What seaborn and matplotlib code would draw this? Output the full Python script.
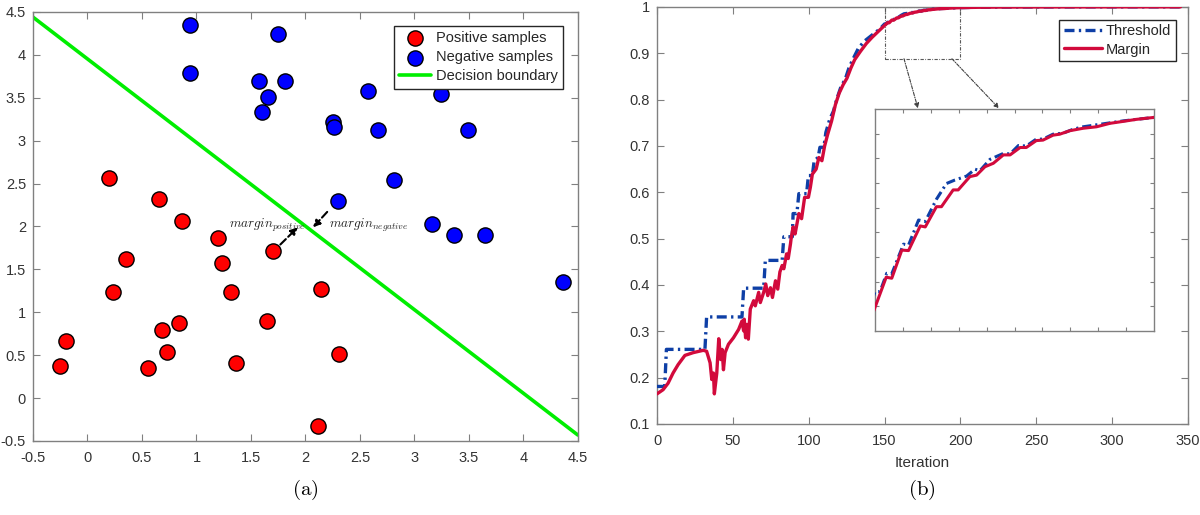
import numpy as np
import matplotlib
matplotlib.use('Agg')
import matplotlib.pyplot as plt
import matplotlib.ticker as mticker
from matplotlib.patches import Rectangle
import seaborn as sns

# --- dados painel (a) ---
pos_x = [-0.25, -0.20, 0.20, 0.23, 0.35, 0.56, 0.66, 0.68, 0.73, 0.84,
         0.87, 1.20, 1.23, 1.32, 1.36, 1.65, 1.70, 2.12, 2.14, 2.31]
pos_y = [0.37, 0.66, 2.57, 1.24, 1.62, 0.35, 2.32, 0.79, 0.54, 0.87,
         2.06, 1.87, 1.58, 1.24, 0.41, 0.90, 1.72, -0.33, 1.27, 0.51]
neg_x = [0.94, 0.94, 1.75, 1.57, 1.81, 1.66, 1.60, 2.25, 2.26, 2.57,
         2.67, 3.24, 3.49, 2.81, 2.30, 3.16, 3.36, 3.65, 4.36]
neg_y = [4.35, 3.79, 4.24, 3.70, 3.69, 3.51, 3.34, 3.22, 3.16, 3.58,
         3.12, 3.54, 3.12, 2.54, 2.30, 2.03, 1.90, 1.90, 1.35]
boundary_x = [-0.5, 4.5]
boundary_y = [4.44, -0.43]

# --- dados painel (b) ---
thr_iter = [0, 5.1, 6.2, 31.6, 32.7, 56.0, 57.1, 70.3, 71.4, 82.5, 83.6, 89.2,
            89.7, 92.2, 93.5, 98.6, 99.8, 102.4, 103.6, 106.2, 107.4, 110.0,
            111.3, 113.8, 116.3, 118.4, 121.4, 124.0, 126.5, 129.0, 132.8,
            136.7, 141.7, 146.8,
            150.0, 150.9, 152.1, 153.0, 155.1, 156.0, 157.8, 159.0, 161.0,
            162.8, 164.3, 166.4, 167.9, 168.8, 170.6, 173.0, 174.2, 175.7,
            177.1, 178.9, 180.1, 181.9, 183.7, 185.5, 187.3, 189.7, 192.1,
            194.5, 196.8, 200.0,
            210, 225, 250, 300, 345]
thr_val = [0.181, 0.181, 0.261, 0.261, 0.331, 0.331, 0.393, 0.393, 0.453, 0.453,
           0.504, 0.504, 0.554, 0.554, 0.597, 0.597, 0.636, 0.636, 0.668, 0.675,
           0.697, 0.697, 0.729, 0.757, 0.775, 0.800, 0.829, 0.843, 0.868, 0.886,
           0.911, 0.926, 0.939, 0.952,
           0.9630, 0.9630, 0.9667, 0.9666, 0.9726, 0.9724, 0.9775, 0.9772, 0.9817,
           0.9849, 0.9856, 0.9864, 0.9878, 0.9875, 0.9898, 0.9910, 0.9909, 0.9926,
           0.9925, 0.9939, 0.9939, 0.9949, 0.9951, 0.9959, 0.9964, 0.9968, 0.9972,
           0.9976, 0.9979, 0.9983,
           0.9990, 0.9995, 0.9998, 1.0, 1.0]

mar_iter = [0, 4.0, 7.3, 10.6, 13.9, 18.4, 23.9, 30.5, 32.7, 35.0, 36.1, 37.2,
            37.8, 39.4, 40.7, 42.0, 42.9, 43.8, 44.9, 47.1, 50.4, 53.8, 56.0,
            57.1, 57.5, 58.4, 59.3, 60.2, 61.5, 63.7, 64.8, 67.0, 68.1, 70.3,
            71.7, 73.0, 74.8, 76.1, 78.1, 79.6, 81.0, 82.5, 83.6, 85.4, 86.5,
            88.0, 88.4, 89.7, 91.0, 93.5, 95.3, 97.3, 99.8, 101.1, 102.4, 104.9,
            106.7, 108.7, 110.5, 112.5, 115.1, 117.6, 120.1, 122.7, 125.2,
            127.8, 130.3, 134.1, 138.0, 141.7, 146.8,
            150.0, 152.0, 153.0, 154.8, 156.0, 158.1, 159.0, 161.0, 161.9,
            164.0, 164.9, 167.0, 168.2, 169.7, 171.2, 173.0, 174.2, 176.0,
            177.1, 178.9, 180.1, 181.9, 183.1, 184.9, 187.3, 189.7, 192.1,
            194.5, 196.8, 200.0,
            210, 225, 250, 300, 345]
mar_val = [0.165, 0.174, 0.188, 0.210, 0.228, 0.248, 0.254, 0.259, 0.257, 0.232,
           0.196, 0.210, 0.165, 0.210, 0.284, 0.239, 0.261, 0.217, 0.254, 0.272,
           0.286, 0.304, 0.322, 0.301, 0.326, 0.286, 0.315, 0.283, 0.348, 0.366,
           0.355, 0.384, 0.362, 0.384, 0.402, 0.377, 0.394, 0.373, 0.409, 0.391,
           0.428, 0.442, 0.435, 0.467, 0.457, 0.489, 0.500, 0.525, 0.510, 0.554,
           0.543, 0.589, 0.589, 0.611, 0.639, 0.650, 0.675, 0.668, 0.700, 0.725,
           0.754, 0.789, 0.814, 0.832, 0.846, 0.868, 0.886, 0.904, 0.921, 0.934,
           0.950,
           0.9598, 0.9659, 0.9657, 0.9714, 0.9713, 0.9763, 0.9761, 0.9802, 0.9802,
           0.9836, 0.9836, 0.9863, 0.9866, 0.9883, 0.9890, 0.9907, 0.9907, 0.9922,
           0.9922, 0.9936, 0.9937, 0.9947, 0.9949, 0.9956, 0.9961, 0.9964, 0.9971,
           0.9975, 0.9979, 0.9983,
           0.9990, 0.9995, 0.9998, 1.0, 1.0]

sns.set_style('ticks')
plt.rcParams['font.family'] = ['Liberation Sans', 'DejaVu Sans']
plt.rcParams['mathtext.fontset'] = 'cm'
plt.rcParams['lines.dashdot_pattern'] = [3.0, 1.3, 0.7, 1.3]

COR_EIXO = '0.5'
COR_TXT = '0.2'
AZUL = '#0e3fa6'
VERMELHO = '#d20a3c'

fmt = mticker.FuncFormatter(lambda v, _: f'{v:g}')


def estilo(ax):
    for s in ax.spines.values():
        s.set_color(COR_EIXO)
        s.set_linewidth(1.0)
    ax.tick_params(direction='in', top=True, right=True, length=5,
                   color=COR_EIXO, labelcolor=COR_TXT, labelsize=10.5, width=0.8)


fig = plt.figure(figsize=(12, 5.15), dpi=100)

# --- (a) ---
ax1 = fig.add_axes([0.0275, 0.1437, 0.454, 0.833])
sns.lineplot(x=boundary_x, y=boundary_y, ax=ax1, color='#00ee00', lw=2.6,
             label='Decision boundary', zorder=2)
sns.scatterplot(x=pos_x, y=pos_y, ax=ax1, color='#ff0000', edgecolor='black',
                s=120, linewidth=1.0, label='Positive samples', zorder=3)
sns.scatterplot(x=neg_x, y=neg_y, ax=ax1, color='#0000ff', edgecolor='black',
                s=120, linewidth=1.0, label='Negative samples', zorder=3)
ax1.set_xlim(-0.5, 4.5)
ax1.set_ylim(-0.5, 4.5)
ax1.set_xticks(np.arange(-0.5, 4.51, 0.5))
ax1.set_yticks(np.arange(-0.5, 4.51, 0.5))
ax1.xaxis.set_major_formatter(fmt)
ax1.yaxis.set_major_formatter(fmt)
estilo(ax1)
ax1.tick_params(axis='x', pad=7)
ax1.tick_params(axis='y', pad=5)

# setas de margem
seta = dict(arrowstyle='-|>', linestyle='--', color='black', lw=1.5,
            mutation_scale=10, shrinkA=0, shrinkB=0)
ax1.annotate('', xy=(1.93, 1.99), xytext=(1.77, 1.79), arrowprops=seta)
ax1.annotate('', xy=(2.07, 1.99), xytext=(2.20, 2.17), arrowprops=seta)
ax1.text(1.30, 1.98, r'$\mathit{margin}_{positive}$', fontsize=9.5,
         color='0.15', ha='left', va='baseline')
ax1.text(2.22, 1.98, r'$\mathit{margin}_{negative}$', fontsize=9.5,
         color='0.15', ha='left', va='baseline')

h, l = ax1.get_legend_handles_labels()
ordem = [l.index('Positive samples'), l.index('Negative samples'), l.index('Decision boundary')]
leg1 = ax1.legend([h[i] for i in ordem], [l[i] for i in ordem], loc='upper right',
                  bbox_to_anchor=(0.9725, 0.967), borderaxespad=0, fontsize=10.5,
                  fancybox=False, edgecolor='0.15', framealpha=1,
                  handlelength=2.2, handletextpad=0.3, labelspacing=0.35,
                  borderpad=0.35)
leg1.get_frame().set_linewidth(1.0)

# --- (b) ---
ax2 = fig.add_axes([0.5475, 0.1767, 0.4425, 0.81])
sns.lineplot(x=thr_iter, y=thr_val, ax=ax2, sort=False, estimator=None,
             color=AZUL, lw=2.4, linestyle='-.', label='Threshold', zorder=3)
sns.lineplot(x=mar_iter, y=mar_val, ax=ax2, sort=False, estimator=None,
             color=VERMELHO, lw=2.4, label='Margin', zorder=4)
ax2.set_xlim(0, 350)
ax2.set_ylim(0.1, 1.0)
ax2.set_xticks(np.arange(0, 351, 50))
ax2.set_yticks(np.arange(0.1, 1.01, 0.1))
ax2.xaxis.set_major_formatter(fmt)
ax2.yaxis.set_major_formatter(fmt)
estilo(ax2)
ax2.tick_params(axis='x', pad=7)
ax2.tick_params(axis='y', pad=5)
ax2.set_xlabel('Iteration', fontsize=11, color=COR_TXT, labelpad=6)
ax2.set_ylabel('')
leg2 = ax2.legend(loc='upper right', bbox_to_anchor=(0.977, 0.969), borderaxespad=0,
                  fontsize=10.5, fancybox=False, edgecolor='0.15', framealpha=1,
                  handlelength=2.6, handletextpad=0.3, labelspacing=0.3,
                  borderpad=0.3)
leg2.get_frame().set_linewidth(1.0)

# retangulo de zoom e setas
ax2.add_patch(Rectangle((150, 0.888), 50, 0.112, fill=False, ec='0.35',
                        lw=0.8, ls='-.', zorder=2))
seta2 = dict(arrowstyle='-|>', linestyle='-.', color='0.25', lw=0.8,
             mutation_scale=7, shrinkA=0, shrinkB=0)
ax2.annotate('', xy=(172, 0.781), xytext=(162.8, 0.888), arrowprops=seta2)
ax2.annotate('', xy=(225.4, 0.781), xytext=(194.4, 0.888), arrowprops=seta2)

# inset
ax3 = fig.add_axes([0.7292, 0.3573, 0.2325, 0.431])
sns.lineplot(x=thr_iter, y=thr_val, ax=ax3, sort=False, estimator=None,
             color=AZUL, lw=2.2, linestyle='-.', zorder=3)
sns.lineplot(x=mar_iter, y=mar_val, ax=ax3, sort=False, estimator=None,
             color=VERMELHO, lw=2.2, zorder=4)
ax3.set_xlim(150, 200)
ax3.set_ylim(0.955, 1.0)
ax3.set_xticks(np.arange(155, 200, 5))
ax3.set_yticks(np.arange(0.96, 0.999, 0.005))
ax3.set_xticklabels([])
ax3.set_yticklabels([])
ax3.set_xlabel('')
ax3.set_ylabel('')
estilo(ax3)
ax3.tick_params(length=3)

fig.text(0.254, 0.049, r'$\mathrm{(a)}$', fontsize=15, ha='center', va='center', color='black')
fig.text(0.7685, 0.049, r'$\mathrm{(b)}$', fontsize=15, ha='center', va='center', color='black')

fig.savefig('out.png', dpi=100)
